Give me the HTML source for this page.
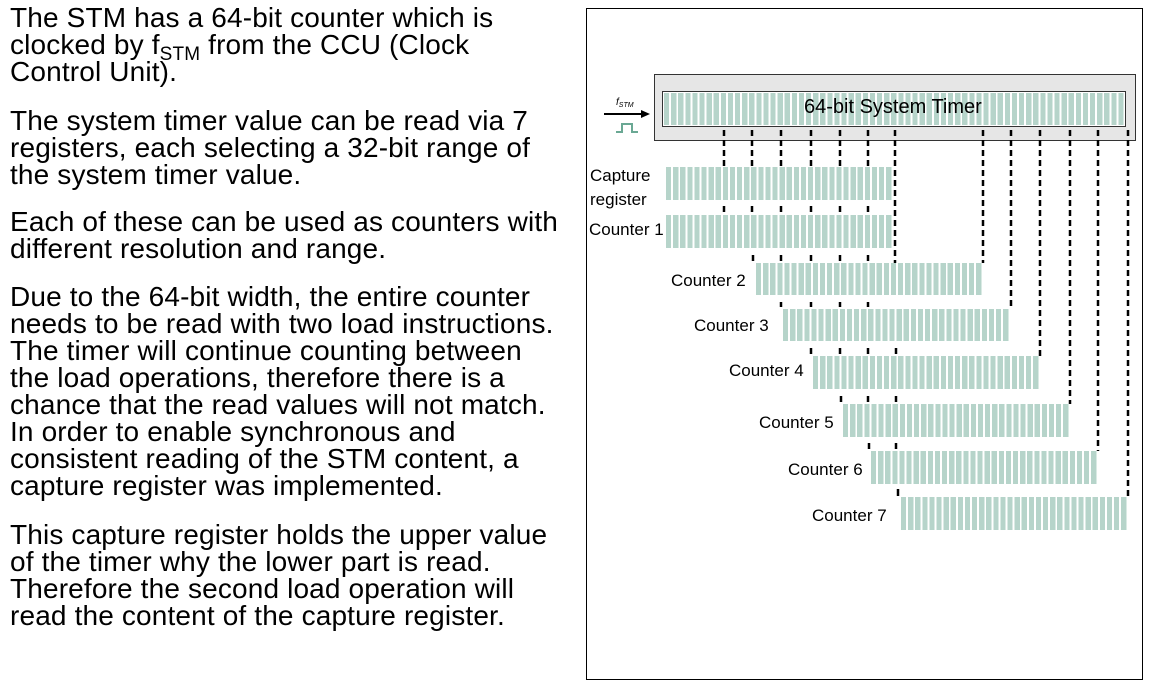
<!DOCTYPE html>
<html><head><meta charset="utf-8"><style>
body{margin:0;width:1160px;height:684px;background:#fff;position:relative;overflow:hidden;font-family:"Liberation Sans",sans-serif;}
.p{position:absolute;left:10px;font-size:28px;line-height:27px;color:#000;white-space:nowrap;letter-spacing:0.15px}
.p sub{font-size:19px;vertical-align:-6px;line-height:0}
.bar{position:absolute;background:repeating-linear-gradient(90deg,#b6d4ca 0 5.2px,#fff 5.2px 7.1px);}
.lbl{position:absolute;font-size:17px;color:#000;white-space:nowrap}
</style></head><body>
<div class="p" style="top:4px">The STM has a 64-bit counter which is<br>clocked by f<sub>STM</sub> from the CCU (Clock<br>Control Unit).</div>
<div class="p" style="top:107px">The system timer value can be read via 7<br>registers, each selecting a 32-bit range of<br>the system timer value.</div>
<div class="p" style="top:208px">Each of these can be used as counters with<br>different resolution and range.</div>
<div class="p" style="top:283px">Due to the 64-bit width, the entire counter<br>needs to be read with two load instructions.<br>The timer will continue counting between<br>the load operations, therefore there is a<br>chance that the read values will not match.<br>In order to enable synchronous and<br>consistent reading of the STM content, a<br>capture register was implemented.</div>
<div class="p" style="top:521px">This capture register holds the upper value<br>of the timer why the lower part is read.<br>Therefore the second load operation will<br>read the content of the capture register.</div>

<div style="position:absolute;left:586px;top:8px;width:557px;height:672px;border:1px solid #000;box-sizing:border-box"></div>
<div style="position:absolute;left:654px;top:74px;width:482px;height:67px;background:#e6e6e6;border:1.5px solid #333;box-sizing:border-box"></div>
<div style="position:absolute;left:662px;top:91px;width:464px;height:36px;border:1px solid #333;background:#fff;box-sizing:border-box"></div>
<div class="bar" style="left:664px;top:93px;width:460px;height:32px"></div>
<div class="lbl" style="left:804px;top:96px;font-size:20px">64-bit System Timer</div>

<div class="bar" style="left:666px;top:167px;width:227px;height:33px"></div>
<div class="bar" style="left:666px;top:215px;width:227px;height:33px"></div>
<div class="bar" style="left:756px;top:263px;width:227px;height:32px"></div>
<div class="bar" style="left:783px;top:309px;width:227px;height:32px"></div>
<div class="bar" style="left:813px;top:356px;width:227px;height:33px"></div>
<div class="bar" style="left:843px;top:404px;width:227px;height:33px"></div>
<div class="bar" style="left:871px;top:451px;width:227px;height:33px"></div>
<div class="bar" style="left:901px;top:497px;width:227px;height:33px"></div>

<div class="lbl" style="left:590px;top:166px">Capture</div>
<div class="lbl" style="left:590px;top:190px">register</div>
<div class="lbl" style="left:589px;top:220px">Counter 1</div>
<div class="lbl" style="left:671px;top:271px">Counter 2</div>
<div class="lbl" style="left:694px;top:316px">Counter 3</div>
<div class="lbl" style="left:729px;top:361px">Counter 4</div>
<div class="lbl" style="left:759px;top:413px">Counter 5</div>
<div class="lbl" style="left:788px;top:460px">Counter 6</div>
<div class="lbl" style="left:812px;top:506px">Counter 7</div>

<svg width="1160" height="684" style="position:absolute;left:0;top:0">
<g stroke="#000" stroke-width="2.5" stroke-dasharray="6,4" fill="none">
<line x1="724" y1="130" x2="724" y2="167"/><line x1="752" y1="130" x2="752" y2="167"/>
<line x1="781" y1="130" x2="781" y2="167"/><line x1="811" y1="130" x2="811" y2="167"/>
<line x1="840" y1="130" x2="840" y2="167"/><line x1="868" y1="130" x2="868" y2="167"/>
<line x1="895" y1="130" x2="895" y2="263"/>
<line x1="983" y1="130" x2="983" y2="263"/><line x1="1011" y1="130" x2="1011" y2="309"/>
<line x1="1040" y1="130" x2="1040" y2="356"/><line x1="1070" y1="130" x2="1070" y2="404"/>
<line x1="1098" y1="130" x2="1098" y2="451"/><line x1="1128" y1="130" x2="1128" y2="497"/>
</g>
<g stroke="#000" stroke-width="2.5">
<line x1="724" y1="206" x2="724" y2="212"/><line x1="752" y1="206" x2="752" y2="212"/><line x1="781" y1="206" x2="781" y2="212"/><line x1="811" y1="206" x2="811" y2="212"/><line x1="840" y1="206" x2="840" y2="212"/><line x1="868" y1="206" x2="868" y2="212"/>
<line x1="753" y1="255" x2="753" y2="261"/><line x1="781" y1="255" x2="781" y2="261"/><line x1="811" y1="255" x2="811" y2="261"/><line x1="840" y1="255" x2="840" y2="261"/><line x1="868" y1="255" x2="868" y2="261"/>
<line x1="781" y1="302" x2="781" y2="307"/><line x1="811" y1="302" x2="811" y2="307"/><line x1="840" y1="302" x2="840" y2="307"/><line x1="868" y1="302" x2="868" y2="307"/>
<line x1="811" y1="348" x2="811" y2="354"/><line x1="840" y1="348" x2="840" y2="354"/><line x1="868" y1="348" x2="868" y2="354"/><line x1="896" y1="348" x2="896" y2="354"/>
<line x1="841" y1="396" x2="841" y2="402"/><line x1="868" y1="396" x2="868" y2="402"/><line x1="896" y1="396" x2="896" y2="402"/>
<line x1="869" y1="443" x2="869" y2="449"/><line x1="896" y1="443" x2="896" y2="449"/>
<line x1="898" y1="489" x2="898" y2="496"/>
</g>
<line x1="604" y1="114" x2="644" y2="114" stroke="#000" stroke-width="2"/>
<polygon points="650,114 641,110 641,118" fill="#000"/>
<polyline points="616,132 622,132 622,124 632,124 632,132 638,132" fill="none" stroke="#6aa894" stroke-width="2"/>
<text x="616" y="105" font-family="Liberation Sans" font-size="10" font-style="italic">f<tspan font-size="7" dy="2">STM</tspan></text>
</svg>
</body></html>
